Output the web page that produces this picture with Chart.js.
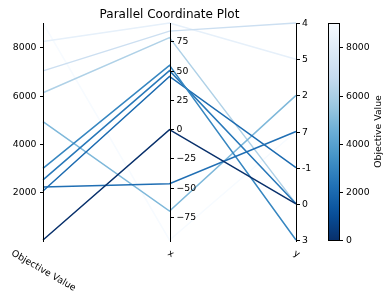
<!DOCTYPE html>
<html>
<head>
<meta charset="utf-8">
<script src="https://cdn.jsdelivr.net/npm/chart.js@4.4.0/dist/chart.umd.min.js"></script>
<style>
  html, body { margin: 0; padding: 0; background: #fff; }
  canvas { display: block; }
</style>
</head>
<body>
<canvas id="pcp" width="392" height="302"></canvas>
<script>
// one entry per trial
const objectiveValues = [0.25, 2197, 2973, 2500, 2033, 4916, 6115, 7026, 8241, 9013];
const trialX = [-0.5, -46.8, 54.5, 50.0, 45.1, -70.1, 78.2, 83.8, 90.75, -94.9];
const trialY = ['0', '7', '3', '0', '-1', '2', '0', '4', '5', '7'];

// axes / ticks
const axisNames = ['Objective Value', 'x', 'y'];
const yCategories = ['4', '5', '2', '7', '-1', '0', '3']; // top to bottom
const objTicks = [2000, 4000, 6000, 8000];
const xTicks = [-75, -50, -25, 0, 25, 50, 75];
const colorbarTicks = [0, 2000, 4000, 6000, 8000];

const objMin = Math.min(...objectiveValues);
const objMax = Math.max(...objectiveValues);
const xMin = Math.min(...trialX);
const xMax = Math.max(...trialX);

// matplotlib "Blues", reversed below
const blues = [
  [247, 251, 255], [222, 235, 247], [198, 219, 239], [158, 202, 225],
  [107, 174, 214], [66, 146, 198], [33, 113, 181], [8, 81, 156], [8, 48, 107]
];
function bluesR(t) {
  const p = (1 - t) * (blues.length - 1);
  const i = Math.min(Math.floor(p), blues.length - 2);
  const f = p - i;
  const c = blues[i].map((v, k) => Math.round(v + (blues[i + 1][k] - v) * f));
  return `rgb(${c[0]},${c[1]},${c[2]})`;
}

const FONT = '"DejaVu Sans", sans-serif';
const LABEL_PX = 9.3;
const fmt = (v) => (v < 0 ? '\u2212' + Math.abs(v) : String(v));

const datasets = objectiveValues.map((obj, i) => {
  const t = (obj - objMin) / (objMax - objMin);
  return {
    label: 'trial ' + i,
    data: [
      { x: 0, y: t },
      { x: 1, y: (trialX[i] - xMin) / (xMax - xMin) },
      { x: 2, y: 1 - yCategories.indexOf(trialY[i]) / (yCategories.length - 1) },
    ],
    xAxisID: 'x',
    yAxisID: 'y',
    borderColor: bluesR(t),
    borderWidth: 1.5,
    pointRadius: 0,
    tension: 0,
    clip: false,
  };
});

const axesPlugin = {
  id: 'pcpAxes',
  afterDatasetsDraw(chart) {
    const ctx = chart.ctx;
    const area = chart.chartArea;
    const s = chart.scales;
    const crisp = (v) => Math.round(v) + 0.5;
    ctx.save();
    ctx.strokeStyle = '#000';
    ctx.fillStyle = '#000';
    ctx.lineWidth = 1;

    // title
    ctx.font = '12px ' + FONT;
    ctx.textAlign = 'center';
    ctx.textBaseline = 'alphabetic';
    ctx.fillText('Parallel Coordinate Plot', (area.left + area.right) / 2, 17.5);

    ctx.font = LABEL_PX + 'px ' + FONT;
    const axX = [0, 1, 2].map((v) => crisp(s.x.getPixelForValue(v)));

    // spines
    axX.forEach((px) => {
      ctx.beginPath();
      ctx.moveTo(px, area.top);
      ctx.lineTo(px, area.bottom + 2);
      ctx.stroke();
    });

    // objective axis (ticks left)
    ctx.textAlign = 'right';
    ctx.textBaseline = 'middle';
    objTicks.forEach((v) => {
      const py = crisp(s.obj.getPixelForValue(v));
      ctx.beginPath();
      ctx.moveTo(axX[0] - 3.5, py);
      ctx.lineTo(axX[0], py);
      ctx.stroke();
      ctx.fillText(String(v), axX[0] - 7, py);
    });

    // x axis (ticks right)
    ctx.textAlign = 'left';
    xTicks.forEach((v) => {
      const py = crisp(s.xv.getPixelForValue(v));
      ctx.beginPath();
      ctx.moveTo(axX[1], py);
      ctx.lineTo(axX[1] + 3.5, py);
      ctx.stroke();
      ctx.fillText(fmt(v), axX[1] + 6, py);
    });

    // y axis (categorical, ticks right)
    yCategories.forEach((label, i) => {
      const py = crisp(s.yc.getPixelForValue(i));
      ctx.beginPath();
      ctx.moveTo(axX[2], py);
      ctx.lineTo(axX[2] + 3.5, py);
      ctx.stroke();
      ctx.fillText(label, axX[2] + 5.5, py);
    });

    // rotated axis names
    const ang = Math.PI / 6;
    ctx.textAlign = 'center';
    ctx.textBaseline = 'middle';
    axisNames.forEach((name, i) => {
      const w = ctx.measureText(name).width;
      const h = LABEL_PX * 1.17;
      const bh = w * Math.sin(ang) + h * Math.cos(ang);
      ctx.save();
      ctx.translate(axX[i], area.bottom + 8 + bh / 2);
      ctx.rotate(ang);
      ctx.fillText(name, 0, 0);
      ctx.restore();
    });

    // colorbar
    const cbL = 328.5, cbR = 339.5;
    const grad = ctx.createLinearGradient(0, area.bottom, 0, area.top);
    for (let k = 0; k <= 20; k++) grad.addColorStop(k / 20, bluesR(k / 20));
    ctx.fillStyle = grad;
    ctx.fillRect(cbL, area.top, cbR - cbL, area.bottom - area.top);
    ctx.fillStyle = '#000';
    ctx.strokeRect(cbL, area.top + 0.5, cbR - cbL, area.bottom - area.top);
    ctx.textAlign = 'left';
    colorbarTicks.forEach((v) => {
      const py = crisp(Math.min(s.obj.getPixelForValue(v), area.bottom - 0.5));
      ctx.beginPath();
      ctx.moveTo(cbR, py);
      ctx.lineTo(cbR + 3.5, py);
      ctx.stroke();
      ctx.fillText(String(v), cbR + 6.5, py);
    });
    ctx.save();
    ctx.translate(379, (area.top + area.bottom) / 2);
    ctx.rotate(-Math.PI / 2);
    ctx.textAlign = 'center';
    ctx.fillText('Objective Value', 0, 0);
    ctx.restore();

    ctx.restore();
  }
};

new Chart(document.getElementById('pcp'), {
  type: 'line',
  data: { datasets },
  options: {
    responsive: false,
    animation: false,
    devicePixelRatio: 1,
    parsing: false,
    layout: { padding: { left: 43, right: 96, top: 23, bottom: 62 } },
    plugins: { legend: { display: false }, tooltip: { enabled: false } },
    scales: {
      x: { type: 'linear', min: 0, max: 2, display: false },
      y: { type: 'linear', min: 0, max: 1, display: false },
      obj: { type: 'linear', axis: 'y', min: objMin, max: objMax, display: false },
      xv: { type: 'linear', axis: 'y', min: xMin, max: xMax, display: false },
      yc: { type: 'category', axis: 'y', labels: yCategories, display: false },
    },
  },
  plugins: [axesPlugin],
});
</script>
</body>
</html>
